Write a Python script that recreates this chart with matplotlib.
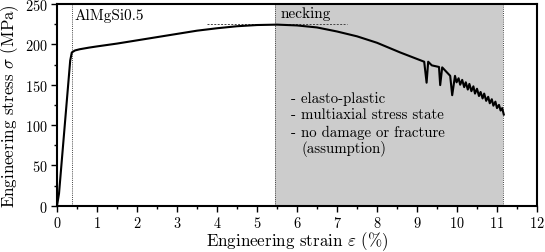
import matplotlib
matplotlib.use("Agg")
import matplotlib.pyplot as plt

plt.rcParams['font.family'] = 'serif'
plt.rcParams['font.serif'] = ['cmr10']
plt.rcParams['mathtext.fontset'] = 'cm'
plt.rcParams['axes.formatter.use_mathtext'] = True

strain = [0.0, 0.02, 0.05, 0.33, 0.37, 0.45, 0.57, 0.8, 1.0, 1.5, 2.0, 2.5, 3.0,
          3.5, 4.0, 4.5, 5.0, 5.5, 6.0, 6.5, 7.0, 7.5, 8.0, 8.58, 9.18, 9.24, 9.28, 9.37,
          9.55, 9.58, 9.63, 9.83, 9.88, 9.95,
          9.99, 10.04, 10.08, 10.13, 10.18, 10.22, 10.27, 10.31, 10.36, 10.41, 10.45,
          10.5, 10.55, 10.59, 10.64, 10.68, 10.73, 10.78, 10.82, 10.87, 10.91, 10.96,
          11.0, 11.05, 11.09, 11.13, 11.17]
stress = [0, 6, 15, 180, 190, 192.5, 194, 196, 197.5, 201, 205, 209, 213,
          217, 220, 222.5, 224, 224.5, 223.5, 221, 216, 210, 202, 190, 178.5, 152.5, 178.5, 174,
          172, 149.5, 171.5, 161, 137, 161,
          153, 158, 150, 156, 147, 153, 144, 151, 142, 148, 139,
          145, 136, 141, 133, 139, 130, 135, 127, 132, 124, 129,
          121, 125, 118, 121, 113]

yield_strain = 0.38
necking_start = 5.45
necking_end = 11.15
uts = 225
uts_line = [3.75, 7.25]

xticks = list(range(0, 13))
yticks = [0, 50, 100, 150, 200, 250]
notes = ["- elasto-plastic", "- multiaxial stress state", "- no damage or fracture"]

fig = plt.figure(figsize=(5.45, 2.53), dpi=100)
ax = fig.add_axes([0.1046, 0.183, 0.8807, 0.797])

ax.axvspan(necking_start, necking_end, color='#cccccc', lw=0, zorder=0)
ax.axvline(yield_strain, color='#444444', ls=(0, (1, 1.2)), lw=0.7, zorder=1)
ax.axvline(necking_start, color='#444444', ls=(0, (1, 1.2)), lw=0.7, zorder=1)
ax.axvline(necking_end, color='#444444', ls=(0, (1, 1.2)), lw=0.7, zorder=1)
ax.plot(uts_line, [uts, uts], color='#444444', ls=(0, (2, 1.5)), lw=0.7, zorder=1)

ax.plot(strain, stress, color='black', lw=1.5, zorder=3)

ax.set_xlim(0, 12)
ax.set_ylim(0, 250)
ax.set_xticks(xticks)
ax.set_yticks(yticks)
ax.set_xticks([x + 0.5 for x in range(12)], minor=True)
ax.set_yticks([y + 25 for y in yticks[:-1]], minor=True)
ax.tick_params(which='both', direction='out', labelsize=10.3, top=False, right=False)
ax.tick_params(which='major', length=4, width=1, pad=2.5)
ax.tick_params(which='minor', length=2.5, width=1)
for s in ax.spines.values():
    s.set_linewidth(1.5)

ax.set_xlabel(r'Engineering strain $\varepsilon$ (%)', fontsize=12.2, va='center')
ax.set_ylabel(r'Engineering stress $\sigma$ (MPa)', fontsize=12.2, va='center')
ax.xaxis.set_label_coords(0.5, -0.172)
ax.yaxis.set_label_coords(-0.098, 0.5)

ax.text(0.44, 237, 'AlMgSi0.5', fontsize=11, va='center', ha='left')
ax.text(5.6, 239, 'necking', fontsize=11, va='center', ha='left')
ys = [134, 113, 92]
for t, yv in zip(notes, ys):
    ax.text(5.85, yv, t, fontsize=10.7, va='center', ha='left')
ax.text(6.12, 71, '(assumption)', fontsize=10.7, va='center', ha='left')

fig.savefig('out.png', dpi=100)
